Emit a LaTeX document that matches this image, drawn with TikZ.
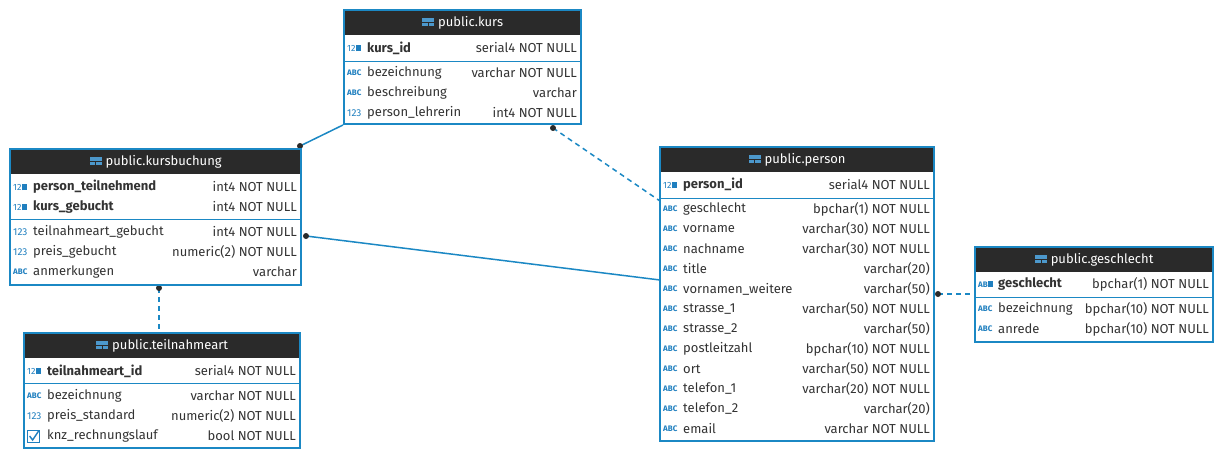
\documentclass[tikz,border=0pt]{standalone}
\usepackage{fontspec}
\setmainfont{Fira Sans}
\definecolor{bd}{HTML}{1B88C4}
\definecolor{hd}{HTML}{2A2A2A}
\definecolor{tx}{HTML}{333333}
\definecolor{ic}{HTML}{1F7FBF}
\tikzset{
 tbl/.style={draw=bd,line width=1.4pt,fill=white,inner sep=0pt,anchor=north west},
 ttl/.style={text=white,font=\fontsize{13}{13}\selectfont},
 cell/.style={text=tx,font=\fontsize{13}{13}\selectfont,inner sep=0pt},
 icn/.style={text=ic,font=\fontsize{8}{8}\selectfont\bfseries,inner sep=0pt,anchor=west},
 rel/.style={draw=bd,line width=1.5pt},
 dot/.style={circle,fill=hd,inner sep=0pt,minimum size=6pt},
}
\newcommand{\tab}[6]{%
 \path[tbl] (#2,#4) rectangle (#3,#5);
 \node[tbl,draw=none,fill=none,minimum width=#3pt-#2pt,minimum height=#5pt-#4pt] (#1) at (#2,#4) {};
 \fill[hd] (#2+1,#4+1) rectangle (#3-1,#4+25);
 \node[ttl] (#1t) at ({(#2+#3)/2},#4+13) {\tikz[x=1pt,y=1pt]{\fill[ic!80!white] (0,0) rectangle (12,8);\draw[hd,line width=0.8pt] (0,4)--(12,4) (6,0)--(6,4);}\ public.#6};
 \draw[rel] (#2,#4) rectangle (#3,#5);}
\newcommand{\sep}[3]{\draw[bd,line width=1pt] (#1,#3)--(#2,#3);}
\newcommand{\row}[6]{%
 \node[icn] at (#1+3,#3) {#4};
 \node[cell,anchor=west] at (#1+23,#3) {#5};
 \node[cell,anchor=east] at (#2-4,#3) {#6};}
\newcommand{\ia}{ABC}
\newcommand{\inum}{\textmd{\fontsize{10}{10}\selectfont 123}}
\newcommand{\ik}{\textmd{\fontsize{9}{9}\selectfont 12}\rule{5pt}{6pt}}
\newcommand{\iak}{AB\rule{5pt}{6pt}}
\newcommand{\ib}{\tikz[x=1pt,y=1pt]{\draw[ic,line width=0.8pt] (0,0) rectangle (12,12);\draw[ic,line width=1.4pt] (2,6)--(5,2)--(11,11);}}
\begin{document}
\begin{tikzpicture}[x=1pt,y=-1pt]
\useasboundingbox[fill=white] (0,0) rectangle (1224,460);
\coordinate (a1) at (343,125); \coordinate (a2) at (300,146);
\coordinate (b1) at (553,128); \coordinate (b2) at (660,201);
\coordinate (c1) at (306,236); \coordinate (c2) at (660,280);
\coordinate (d1) at (159,288); \coordinate (d2) at (159,333);
\coordinate (e1) at (938,294); \coordinate (e2) at (975,294);
\draw[rel] (a1)--(a2); \node[dot] at (a2) {};
\draw[rel,dash pattern=on 5pt off 4pt] (b1)--(b2); \node[dot] at (b1) {};
\draw[rel] (c1)--(c2); \node[dot] at (c1) {};
\draw[rel,dash pattern=on 5pt off 4pt] (d1)--(d2); \node[dot] at (d1) {};
\draw[rel,dash pattern=on 5pt off 4pt] (e1)--(e2); \node[dot] at (e1) {};
\tab{kurs}{344}{581}{10}{124}{kurs}
\row{344}{581}{48}{\ik}{\textbf{kurs\_id}}{serial4 NOT NULL}
\sep{344}{581}{62}
\row{344}{581}{73}{\ia}{bezeichnung}{varchar NOT NULL}
\row{344}{581}{93}{\ia}{beschreibung}{varchar}
\row{344}{581}{113}{\inum}{person\_lehrerin}{int4 NOT NULL}
\tab{kursbuchung}{10}{301}{149}{285}{kursbuchung}
\row{10}{301}{187}{\ik}{\textbf{person\_teilnehmend}}{int4 NOT NULL}
\row{10}{301}{207}{\ik}{\textbf{kurs\_gebucht}}{int4 NOT NULL}
\sep{10}{301}{219}
\row{10}{301}{232}{\inum}{teilnahmeart\_gebucht}{int4 NOT NULL}
\row{10}{301}{252}{\inum}{preis\_gebucht}{numeric(2) NOT NULL}
\row{10}{301}{272}{\ia}{anmerkungen}{varchar}
\tab{teilnahmeart}{24}{300}{333}{448}{teilnahmeart}
\row{24}{300}{371}{\ik}{\textbf{teilnahmeart\_id}}{serial4 NOT NULL}
\sep{24}{300}{383}
\row{24}{300}{396}{\ia}{bezeichnung}{varchar NOT NULL}
\row{24}{300}{416}{\inum}{preis\_standard}{numeric(2) NOT NULL}
\row{24}{300}{436}{\ib}{knz\_rechnungslauf}{bool NOT NULL}
\tab{person}{660}{934}{147}{441}{person}
\row{660}{934}{185}{\ik}{\textbf{person\_id}}{serial4 NOT NULL}
\sep{660}{934}{198}
\row{660}{934}{209}{\ia}{geschlecht}{bpchar(1) NOT NULL}
\row{660}{934}{229}{\ia}{vorname}{varchar(30) NOT NULL}
\row{660}{934}{249}{\ia}{nachname}{varchar(30) NOT NULL}
\row{660}{934}{269}{\ia}{title}{varchar(20)}
\row{660}{934}{289}{\ia}{vornamen\_weitere}{varchar(50)}
\row{660}{934}{309}{\ia}{strasse\_1}{varchar(50) NOT NULL}
\row{660}{934}{329}{\ia}{strasse\_2}{varchar(50)}
\row{660}{934}{349}{\ia}{postleitzahl}{bpchar(10) NOT NULL}
\row{660}{934}{369}{\ia}{ort}{varchar(50) NOT NULL}
\row{660}{934}{389}{\ia}{telefon\_1}{varchar(20) NOT NULL}
\row{660}{934}{409}{\ia}{telefon\_2}{varchar(20)}
\row{660}{934}{429}{\ia}{email}{varchar NOT NULL}
\tab{geschlecht}{975}{1213}{247}{342}{geschlecht}
\row{975}{1213}{284}{\iak}{\textbf{geschlecht}}{bpchar(1) NOT NULL}
\sep{975}{1213}{297}
\row{975}{1213}{309}{\ia}{bezeichnung}{bpchar(10) NOT NULL}
\row{975}{1213}{329}{\ia}{anrede}{bpchar(10) NOT NULL}
\end{tikzpicture}
\end{document}
